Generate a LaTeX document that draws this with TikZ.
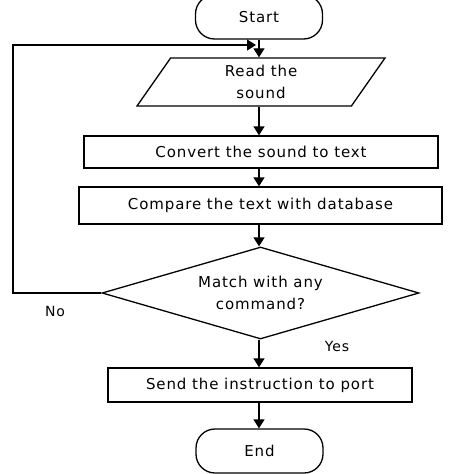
\documentclass[tikz,border=0pt]{standalone}
\usepackage{fontspec}
\setmainfont{DejaVu Sans}[LetterSpace=6]
\usetikzlibrary{shapes.geometric,arrows.meta}
\begin{document}
\begin{tikzpicture}[x=1pt,y=-1pt,
  every node/.style={font=\fontsize{15}{22}\selectfont, align=center, inner sep=0pt},
  term/.style={draw, line width=1.3pt, rounded corners=19pt, minimum width=127pt, minimum height=44pt},
  proc/.style={draw, line width=1.3pt, minimum height=34pt},
  io/.style={draw, line width=1.3pt, trapezium, trapezium left angle=45, trapezium right angle=135, trapezium stretches body, minimum width=248pt, minimum height=48pt},
  dec/.style={draw, line width=1.3pt, diamond, aspect=3.45, minimum width=317pt, minimum height=92pt},
  arr/.style={line width=1.3pt, -{Triangle[length=9pt,width=11pt]}},
  lbl/.style={font=\fontsize{14}{16}\selectfont}]
\useasboundingbox (0,0) rectangle (474,474);
\node[term] (start) at (259,17) {Start};
\node[io] (read) at (261,82) {Read the\\sound};
\node[proc, minimum width=354pt, minimum height=32pt] (conv) at (261,152) {Convert the sound to text};
\node[proc, minimum width=363pt, minimum height=37pt] (comp) at (260.5,205.5) {Compare the text with database};
\node[dec] (match) at (260.5,293) {Match with any\\command?};
\node[proc, minimum width=304pt, minimum height=34pt] (send) at (260,385) {Send the instruction to port};
\node[term] (end) at (259.5,451) {End};
\node[lbl] (no) at (55,311) {No};
\node[lbl] (yes) at (337,346) {Yes};
\coordinate (loopend) at (256,45);
\draw[arr] (start.south) -- (start.south |- read.north);
\draw[arr] (read.south -| start.south) -- (start.south |- conv.north);
\draw[arr] (conv.south -| start.south) -- (start.south |- comp.north);
\draw[arr] (comp.south -| start.south) -- (start.south |- match.north);
\draw[arr] (match.south -| start.south) -- (start.south |- send.north);
\draw[arr] (send.south -| start.south) -- (start.south |- end.north);
\draw[arr] (match.west) -- (13,293) -- (13,45) -- (loopend);
\end{tikzpicture}
\end{document}
